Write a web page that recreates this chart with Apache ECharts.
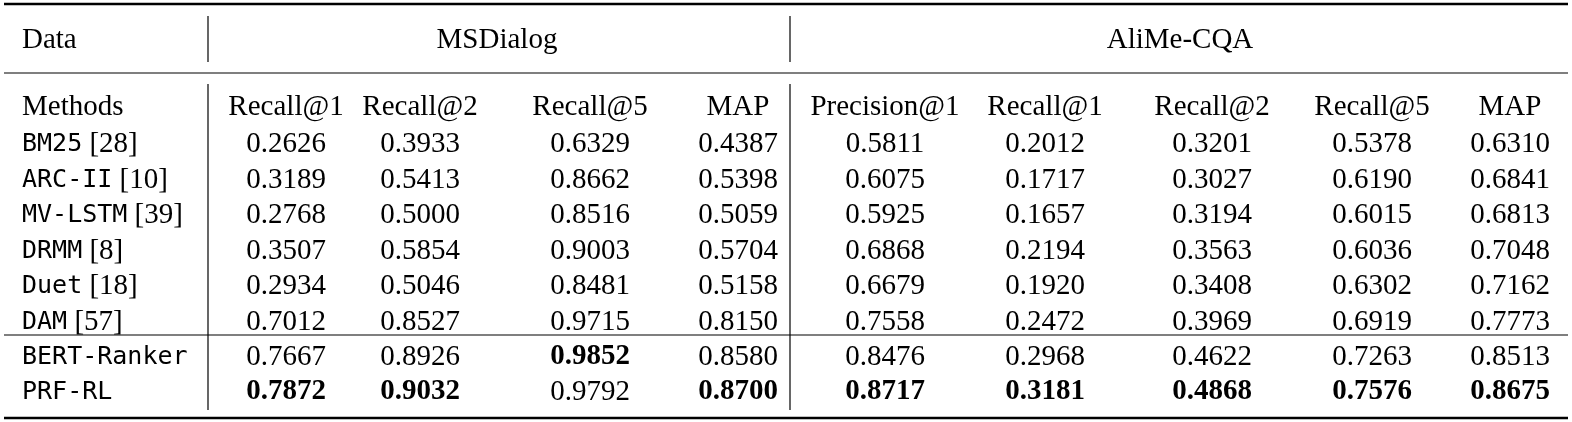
<!DOCTYPE html>
<html>
<head>
<meta charset="utf-8">
<script src="https://cdn.jsdelivr.net/npm/echarts@6/dist/echarts.min.js"></script>
<style>html,body{margin:0;background:#fff}#main{width:1572px;height:422px}</style>
</head>
<body>
<div id="main"></div>
<script>
var groups = ['MSDialog', 'AliMe-CQA'];
var columns = ['Recall@1', 'Recall@2', 'Recall@5', 'MAP', 'Precision@1', 'Recall@1', 'Recall@2', 'Recall@5', 'MAP'];
var methods = ['BM25', 'ARC-II', 'MV-LSTM', 'DRMM', 'Duet', 'DAM', 'BERT-Ranker', 'PRF-RL'];
var refs = ['[28]', '[10]', '[39]', '[8]', '[18]', '[57]', '', ''];
var values = [
    ['0.2626', '0.3933', '0.6329', '0.4387', '0.5811', '0.2012', '0.3201', '0.5378', '0.6310'],
    ['0.3189', '0.5413', '0.8662', '0.5398', '0.6075', '0.1717', '0.3027', '0.6190', '0.6841'],
    ['0.2768', '0.5000', '0.8516', '0.5059', '0.5925', '0.1657', '0.3194', '0.6015', '0.6813'],
    ['0.3507', '0.5854', '0.9003', '0.5704', '0.6868', '0.2194', '0.3563', '0.6036', '0.7048'],
    ['0.2934', '0.5046', '0.8481', '0.5158', '0.6679', '0.1920', '0.3408', '0.6302', '0.7162'],
    ['0.7012', '0.8527', '0.9715', '0.8150', '0.7558', '0.2472', '0.3969', '0.6919', '0.7773'],
    ['0.7667', '0.8926', '0.9852', '0.8580', '0.8476', '0.2968', '0.4622', '0.7263', '0.8513'],
    ['0.7872', '0.9032', '0.9792', '0.8700', '0.8717', '0.3181', '0.4868', '0.7576', '0.8675']
];
// best value per column is bold: [row, col]
var bold = [[6, 2], [7, 0], [7, 1], [7, 3], [7, 4], [7, 5], [7, 6], [7, 7], [7, 8]];

// layout
var colX = [286, 420, 590, 738, 885, 1045, 1212, 1372, 1510];
var groupX = [497, 1180];
var rowY = [144, 180, 215, 251, 286, 322, 357, 392];
var serif = '"Liberation Serif", "DejaVu Serif", serif';
var mono = '"DejaVu Sans Mono", "Liberation Mono", monospace';
var fs = 29;

function txt(x, y, s, opt) {
    opt = opt || {};
    return {
        type: 'text', x: x, y: y,
        style: {
            text: s, fill: '#000', align: opt.align || 'center', verticalAlign: 'middle',
            font: (opt.bold ? 'bold ' : '') + (opt.size || fs) + 'px ' + (opt.family || serif)
        }
    };
}
function hline(y, w) {
    return {type: 'line', shape: {x1: 4, y1: y, x2: 1568, y2: y}, style: {stroke: '#000', lineWidth: w}};
}
function vline(x, y1, y2) {
    return {type: 'line', shape: {x1: x, y1: y1, x2: x, y2: y2}, style: {stroke: '#000', lineWidth: 1.2}};
}

var els = [];
els.push(hline(4, 2.5), hline(73, 1.2), hline(335, 1.2), hline(418, 2.5));
els.push(vline(208, 16, 62), vline(208, 84, 410), vline(790, 16, 62), vline(790, 84, 410));
els.push(txt(22, 40, 'Data', {align: 'left'}));
groups.forEach(function (g, i) { els.push(txt(groupX[i], 40, g)); });
els.push(txt(22, 107, 'Methods', {align: 'left'}));
columns.forEach(function (c, i) { els.push(txt(colX[i], 107, c)); });
methods.forEach(function (m, r) {
    els.push({
        type: 'text', x: 22, y: rowY[r],
        style: {
            text: '{m|' + m + '}' + (refs[r] ? '{s| ' + refs[r] + '}' : ''),
            verticalAlign: 'middle', align: 'left',
            rich: {
                m: {font: '25px ' + mono, fill: '#000'},
                s: {font: fs + 'px ' + serif, fill: '#000'}
            }
        }
    });
    values[r].forEach(function (v, c) {
        var isBold = bold.some(function (b) { return b[0] === r && b[1] === c; });
        els.push(txt(colX[c], rowY[r], v, {bold: isBold}));
    });
});

var chart = echarts.init(document.getElementById('main'));
chart.setOption({animation: false, graphic: els});
</script>
</body>
</html>
